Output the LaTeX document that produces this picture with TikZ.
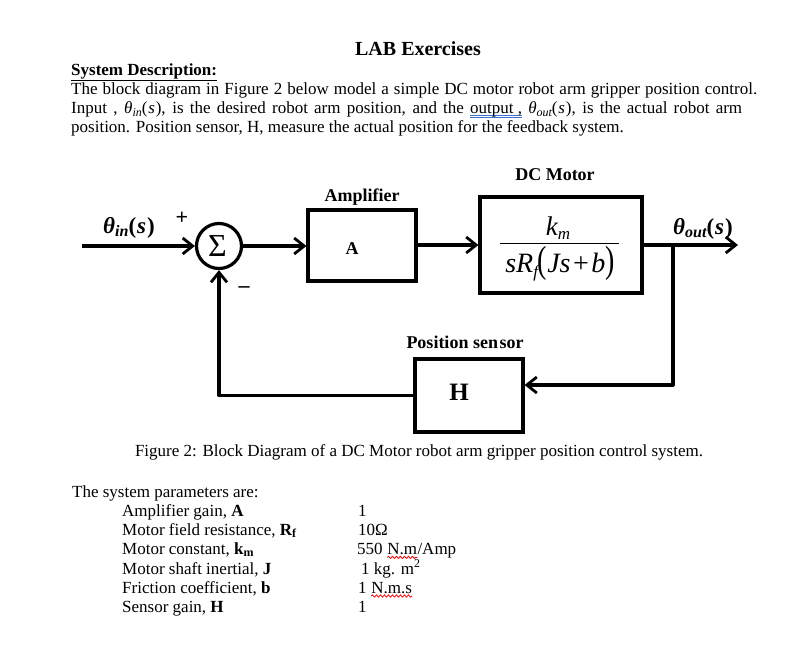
\documentclass[tikz,border=0pt]{standalone}
\usepackage{fontspec}
\setmainfont{Liberation Serif}
\usetikzlibrary{arrows.meta,decorations.pathmorphing}
\newcommand\lowsub[2][3pt]{\raisebox{-#1}{\fontsize{12}{12}\selectfont #2}}
\newcommand\thetain{{\itshape θ}\lowsub{\itshape in}(\kern0.8pt{\itshape s}\kern0.8pt)}
\newcommand\thetaout{{\itshape θ}\lowsub{\itshape out}(\kern0.8pt{\itshape s}\kern0.8pt)}
\newcommand\blueul[1]{\setbox0\hbox{#1}\rlap{\color[HTML]{3B6FD0}\raisebox{-2.6pt}{\rule{\wd0}{0.7pt}}\kern-\wd0\raisebox{-4.2pt}{\rule{\wd0}{0.7pt}}}\box0}
\begin{document}
\begin{tikzpicture}[x=1pt,y=-1pt,
  body/.style={font=\fontsize{17}{19.5}\selectfont, inner sep=0pt, anchor=base west},
  lbl/.style={font=\bfseries\fontsize{18}{20}\selectfont, inner sep=0pt, anchor=base},
  blk/.style={draw, line width=3.2pt, inner sep=0pt},
  wire/.style={line width=3.2pt},
  tip/.style={-{Straight Barb[length=10pt,width=16pt,line width=2.8pt]}},
  sig/.style={font=\bfseries\fontsize{23}{24}\selectfont, inner sep=0pt, anchor=base},
  squig/.style={red, line width=0.8pt, decorate, decoration={snake, amplitude=1.1pt, segment length=4pt}}]
\useasboundingbox (0,0) rectangle (812,654);
\fill[white] (0,0) rectangle (812,654);

% header text
\node[font=\bfseries\fontsize{20}{22}\selectfont, inner sep=0pt, anchor=base] (title) at (418,55) {LAB Exercises};
\node[body, font=\bfseries\fontsize{17}{19.5}\selectfont] (sd) at (71,75) {\underline{System Description:}};
\node[body] (l1) at (71,94) {\makebox[686pt][s]{The block diagram in Figure 2 below model a simple DC motor robot arm gripper position control.}};
\node[body] (l2) at (71,113) {\makebox[671pt][s]{Input , \thetain, is the desired robot arm position, and the \blueul{output ,}\ \thetaout, is the actual robot arm}};
\node[body] (l3) at (71,132) {position. Position sensor, H, measure the actual position for the feedback system.};

% blocks
\node[blk, circle, minimum size=45pt] (sum) at (219,246) {};
\node[font=\fontsize{32}{32}\selectfont, inner sep=0pt] (sigma) at (217.5,246) {Σ};
\node[blk, rectangle, minimum width=108pt, minimum height=71pt] (amp) at (362,245.5) {};
\node[font=\bfseries\fontsize{18}{18}\selectfont, inner sep=0pt] (A) at (352,249) {A};
\node[blk, rectangle, minimum width=162pt, minimum height=96pt] (dc) at (561,245) {};
\node[blk, rectangle, minimum width=108pt, minimum height=73pt] (H) at (469,395.5) {};
\node[font=\bfseries\fontsize{25}{25}\selectfont, inner sep=0pt] (Hl) at (459,392) {H};

% block labels
\node[lbl] (ampl) at (362,201) {Amplifier};
\node[lbl] (dcl) at (555,180) {DC Motor};
\node[lbl] (psl) at (465,348) {Position sen\kern1.5pt sor};

% transfer function
\node[font=\fontsize{27}{27}\selectfont, inner sep=0pt, anchor=base] (num) at (558,235) {{\itshape k}\lowsub[4pt]{\fontsize{17}{17}\selectfont\itshape m}};
\coordinate (barl) at (500,243);
\coordinate (barr) at (619,243);
\draw[line width=0.9pt] (barl) -- (barr);
\node[font=\fontsize{28}{28}\selectfont, inner sep=0pt, anchor=base] (den) at (560,272) {{\itshape sR}\lowsub[5pt]{\fontsize{17}{17}\selectfont\itshape f}\scalebox{1}[1.35]{(}{\itshape Js}\kern2.5pt+\kern2.5pt{\itshape b}\scalebox{1}[1.35]{)}};

% signals
\coordinate (in) at (82,246);
\coordinate (out) at (738,245);
\coordinate (br) at (673,245);
\coordinate (hin) at ([yshift=10.5pt]H.east);
\node[sig] (thin) at (129,233) {{\itshape θ}\lowsub[3.5pt]{\fontsize{16}{16}\selectfont\bfseries\itshape in}(\kern1pt{\itshape s}\kern1pt)};
\node[sig] (thout) at (703,234) {{\itshape θ}\lowsub[3.5pt]{\fontsize{16}{16}\selectfont\bfseries\itshape out}(\kern1pt{\itshape s}\kern1pt)};
\node[font=\bfseries\fontsize{22}{22}\selectfont, inner sep=0pt] (plus) at (182,218) {+};
\node[font=\bfseries\fontsize{22}{22}\selectfont, inner sep=0pt] (minus) at (244,289.5) {–};

% connectors
\draw[wire, tip] (in) -- (sum.west);
\draw[wire, tip] (sum.east) -- (sum.east -| amp.west);
\draw[wire, tip] (amp.east |- dc.west) -- (dc.west);
\draw[wire, tip] (dc.east) -- (out);
\draw[wire, tip, line join=round] (br) -- (br |- hin) -- (hin);
\draw[wire, tip, line join=round] (H.west) -| (sum.south);

% caption
\node[body, anchor=base] (cap) at (419,456) {Figure 2: Block Diagram of a DC Motor robot arm gripper position control system.};

% parameters
\node[body] (ph) at (72,497) {The system parameters are:};
\node[body] (p1) at (122,516.3) {Amplifier gain, \textbf{A}};
\node[body] (p2) at (122,535.6) {Motor field resistance, \textbf{R\lowsub[2pt]{f}}};
\node[body] (p3) at (122,554.9) {Motor constant, \textbf{k\lowsub[2pt]{m}}};
\node[body] (p4) at (122,574.2) {Motor shaft inertial, \textbf{J}};
\node[body] (p5) at (122,593.5) {Friction coefficient, \textbf{b}};
\node[body] (p6) at (122,612.8) {Sensor gain, \textbf{H}};
\node[body] (v1) at (358,516.3) {1};
\node[body] (v2) at (358,535.6) {10Ω};
\node[body] (v3a) at (357,554.9) {550};
\node[body] (v3b) at ([xshift=4.25pt]v3a.base east) {N.m};
\node[body] (v3c) at (v3b.base east) {/Amp};
\node[body] (v4) at (361,574.2) {1 kg. m\textsuperscript{2}};
\node[body] (v5a) at (358,593.5) {1};
\node[body] (v5b) at ([xshift=4.25pt]v5a.base east) {N.m.s};
\node[body] (v6) at (358,612.8) {1};
\draw[squig] ([yshift=-2.5pt]v3b.base west) -- ([yshift=-2.5pt]v3b.base east);
\draw[squig] ([yshift=-2.5pt]v5b.base west) -- ([yshift=-2.5pt]v5b.base east);
\end{tikzpicture}
\end{document}
